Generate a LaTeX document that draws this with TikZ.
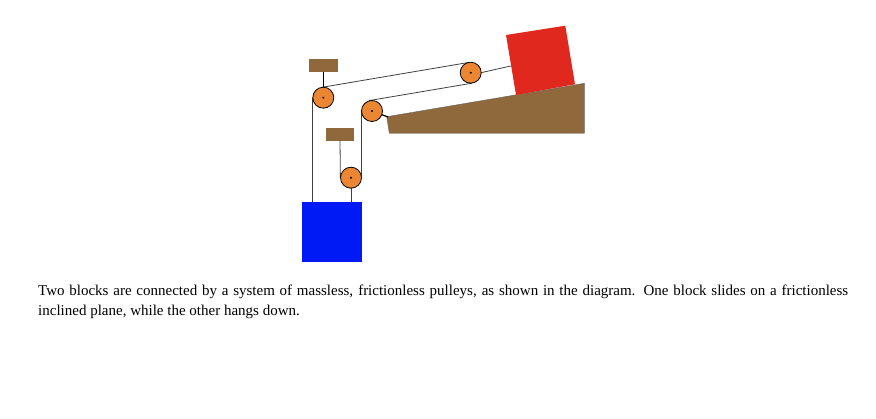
\documentclass[tikz,border=0pt]{standalone}
\usepackage{fontspec}
\setmainfont{Liberation Serif}
\definecolor{pul}{RGB}{235,135,50}
\definecolor{wood}{RGB}{143,104,60}
\definecolor{bblue}{RGB}{0,26,245}
\definecolor{bred}{RGB}{225,40,30}
\tikzset{
  pulley/.style={circle,draw=black,fill=pul,line width=0.8pt,minimum size=21pt,inner sep=0pt},
  rope/.style={draw=black!75,line width=0.8pt},
  mount/.style={fill=wood,draw=none}
}
\begin{document}
\begin{tikzpicture}[x=1pt,y=-1pt]
\useasboundingbox (0,0) rectangle (876,419);
% incline
\fill[wood,draw=black!60,line width=0.4pt] (386.7,116.7) -- (584.3,83.3) -- (584.3,133.3) -- (389.3,133.3) -- cycle;
% red block
\fill[bred] (506,35) -- (565.3,25.7) -- (575,84.3) -- (516,95) -- cycle;
\coordinate (redL) at (510.7,66);
% ceilings
\fill[mount] (309,59) rectangle (338,71.7); \coordinate (c1) at (323.3,71.7);
\fill[mount] (325.7,128) rectangle (354.3,140.7); \coordinate (c2) at (340,140.7);
% blue block
\node[fill=bblue,minimum width=60pt,minimum height=60pt,inner sep=0pt,anchor=north west] (blue) at (301.7,202) {};
% pulleys
\coordinate (A) at (323.3,97.7);
\coordinate (B) at (372,111);
\coordinate (C) at (470.7,72.7);
\coordinate (D) at (351,177.7);
\coordinate (tip) at (388,117);
% ropes
\draw[line width=1.6pt] (c1) -- (A);
\draw[line width=1.2pt] (B) -- (tip);
\draw[rope] (312.5,202) -- (312.5,97.7);
\draw[rope] (321.5,87.4) -- (469,62.4);
\draw[rope] (472,83.2) -- (369,100.6);
\draw[rope] (361.7,111) -- (361.7,177.7);
\draw[rope] (340.4,177.7) -- (c2);
\draw[rope] (351,188) -- (351,202);
\draw[rope] (481,72.7) -- (redL);
\foreach \p/\n in {A/pA,B/pB,C/pC,D/pD}{
  \node[pulley] (\n) at (\p) {};
  \fill (\p) circle (1.1pt);
}
% text
\node[anchor=north west,text width=810pt,align=justify,font=\fontsize{15}{20}\selectfont,inner sep=0pt] (txt) at (38,285)
{Two blocks are connected by a system of massless, frictionless pulleys, as shown in the diagram. One block slides on a frictionless inclined plane, while the other hangs down.};
\end{tikzpicture}
\end{document}
